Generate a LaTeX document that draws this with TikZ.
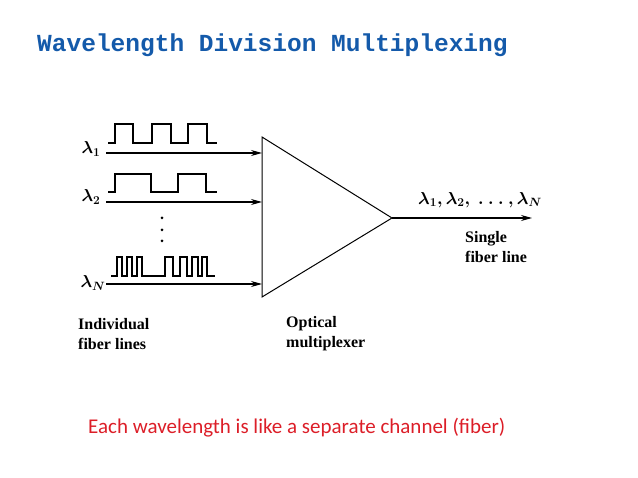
\documentclass[tikz,border=0pt]{standalone}
\usepackage{fontspec}
\setmainfont{Liberation Serif}
\newfontfamily\calfont{Carlito}
\newfontfamily\monofont{Liberation Mono}
\usetikzlibrary{arrows.meta}
\definecolor{tblue}{RGB}{20,90,170}
\definecolor{tred}{RGB}{220,30,40}
\begin{document}
\begin{tikzpicture}[x=1pt,y=-1pt,
  wave/.style={line width=1.6pt},
  sig/.style={line width=1.1pt,-{Stealth[length=11pt,width=6pt]}},
  lab/.style={font=\bfseries\fontsize{16}{20}\selectfont,align=left,anchor=west,inner sep=0pt},
  lam/.style={font=\boldmath\fontsize{18}{20}\selectfont,inner sep=0pt}]
\useasboundingbox (0,0) rectangle (638,478);
\node[anchor=west,text=tblue,font=\monofont\bfseries\fontsize{24.5}{28}\selectfont,inner sep=0pt] (title) at (37,45) {Wavelength Division Multiplexing};
% multiplexer
\coordinate (m1) at (262,137); \coordinate (m2) at (262,297); \coordinate (tip) at (392,218);
\draw[line width=1pt] (m1) -- (tip) -- (m2) -- cycle;
\coordinate (i1) at (262,153); \coordinate (i2) at (262,202); \coordinate (iN) at (262,284);
\coordinate (s1) at (106,153); \coordinate (s2) at (106,202); \coordinate (sN) at (106,284);
\coordinate (out) at (532,218);
\draw[sig] (s1) -- (i1);
\draw[sig] (s2) -- (i2);
\draw[sig] (sN) -- (iN);
\draw[sig] (tip) -- (out);
% waveforms
\draw[wave] (108,143) -| (115,124) -| (133,143) -| (152,124) -| (171,143) -| (188,124) -| (207,143) -- (217,143);
\draw[wave] (108,192) -| (115,174) -| (151,192) -| (178,174) -| (206,192) -- (217,192);
\draw[wave] (111,276) -| (117,257) -| (122,276) -| (127,257) -| (132,276) -| (137,257) -| (142,276)
  -| (165,257) -| (173,276) -| (180,257) -| (187,276) -| (192,257) -| (198,276) -| (202,257) -| (207,276) -- (215,276);
\foreach \y in {218,230,241} \fill (162,\y) circle (1.5pt);
% labels
\node[lam] (l1) at (91,149) {$\lambda_1$};
\node[lam] (l2) at (91,197) {$\lambda_2$};
\node[lam] (lN) at (93,283) {$\lambda_N$};
\node[lam,anchor=west] (lo) at (418,200) {$\lambda_1, \lambda_2,\ .\ .\ .\ ,\lambda_N$};
\node[lab] (single) at (465,247) {Single\\fiber line};
\node[lab] (indiv) at (78,334) {Individual\\fiber lines};
\node[lab] (optic) at (286,334) {Optical\\multiplexer};
\node[anchor=west,text=tred,font=\calfont\fontsize{21}{24}\selectfont,inner sep=0pt] (cap) at (88,428) {Each wavelength is like a separate channel (fiber)};
\end{tikzpicture}
\end{document}
